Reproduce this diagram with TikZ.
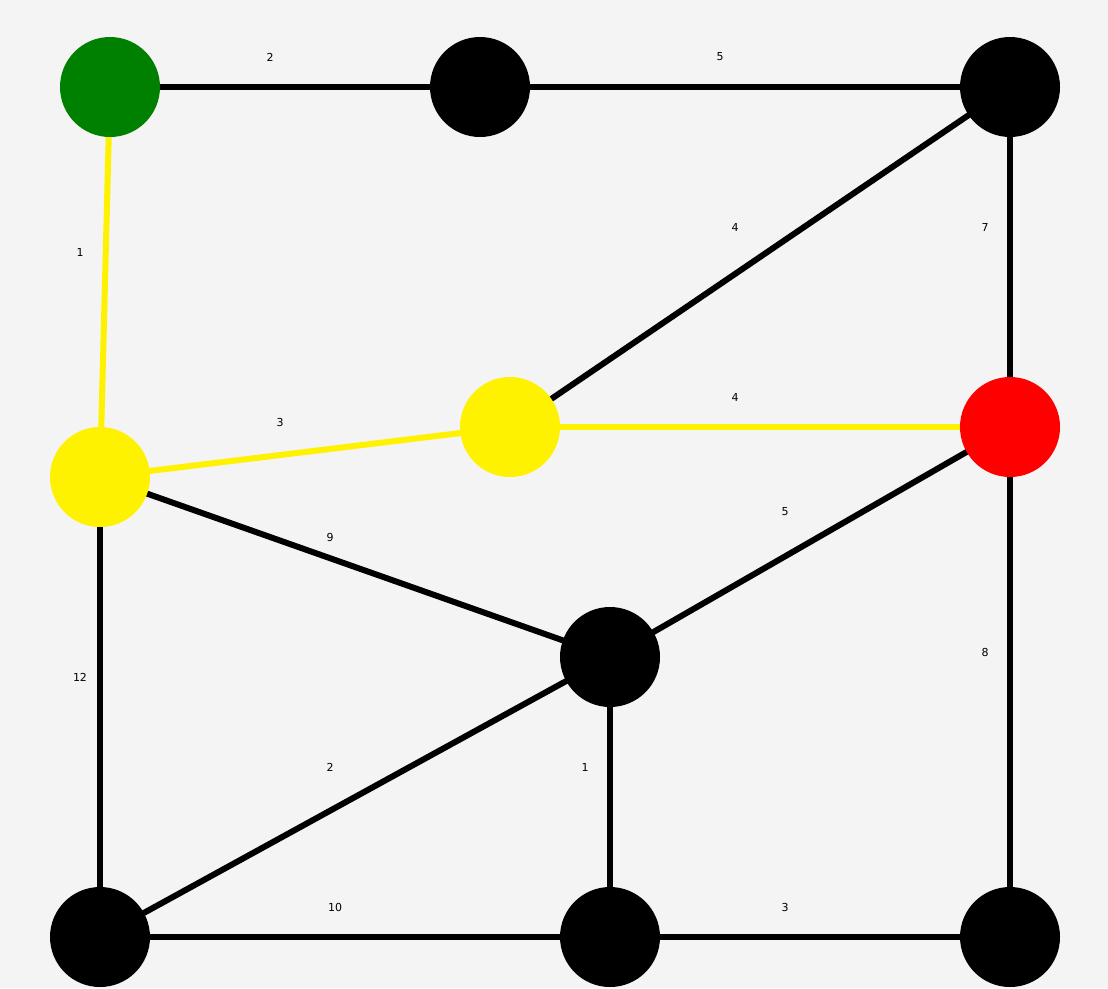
\documentclass[tikz,border=0pt]{standalone}
\usepackage{fontspec}
\setmainfont{DejaVu Sans}
\definecolor{bg}{HTML}{F4F4F4}
\definecolor{gr}{HTML}{008000}
\begin{document}
\begin{tikzpicture}[x=1pt,y=-1pt,
  vtx/.style={circle,fill=black,minimum size=100pt,inner sep=0pt},
  edg/.style={line width=6pt,black},
  yedg/.style={line width=6pt,yellow},
  lbl/.style={font=\fontsize{11}{13}\selectfont,inner sep=0pt}]
\fill[bg] (0,0) rectangle (1108,988);
\useasboundingbox (0,0) rectangle (1108,988);
\coordinate (a) at (110,87);
\coordinate (b) at (480,87);
\coordinate (c) at (1010,87);
\coordinate (d) at (510,427);
\coordinate (e) at (1010,427);
\coordinate (f) at (100,477);
\coordinate (g) at (610,657);
\coordinate (h) at (100,937);
\coordinate (i) at (610,937);
\coordinate (j) at (1010,937);
\draw[edg] (a)--(b); \draw[edg] (b)--(c);
\draw[yedg] (a)--(f);
\draw[edg] (c)--(d); \draw[edg] (c)--(e);
\draw[yedg] (f)--(d); \draw[yedg] (d)--(e);
\draw[edg] (f)--(g); \draw[edg] (e)--(g); \draw[edg] (e)--(j);
\draw[edg] (f)--(h); \draw[edg] (g)--(h); \draw[edg] (g)--(i);
\draw[edg] (h)--(i); \draw[edg] (i)--(j);
\node[vtx,fill=gr] (na) at (a) {};
\node[vtx] (nb) at (b) {};
\node[vtx] (nc) at (c) {};
\node[vtx,fill=yellow] (nd) at (d) {};
\node[vtx,fill=red] (ne) at (e) {};
\node[vtx,fill=yellow] (nf) at (f) {};
\node[vtx] (ng) at (g) {};
\node[vtx] (nh) at (h) {};
\node[vtx] (ni) at (i) {};
\node[vtx] (nj) at (j) {};
\node[lbl] (l1) at (270,57) {2};
\node[lbl] (l2) at (720,57) {5};
\node[lbl] (l3) at (80,252) {1};
\node[lbl] (l4) at (735,227) {4};
\node[lbl] (l5) at (985,227) {7};
\node[lbl] (l6) at (280,422) {3};
\node[lbl] (l7) at (735,397) {4};
\node[lbl] (l8) at (330,537) {9};
\node[lbl] (l9) at (785,512) {5};
\node[lbl] (l10) at (985,652) {8};
\node[lbl] (l11) at (80,677) {12};
\node[lbl] (l12) at (330,767) {2};
\node[lbl] (l13) at (585,767) {1};
\node[lbl] (l14) at (335,907) {10};
\node[lbl] (l15) at (785,907) {3};
\end{tikzpicture}
\end{document}
